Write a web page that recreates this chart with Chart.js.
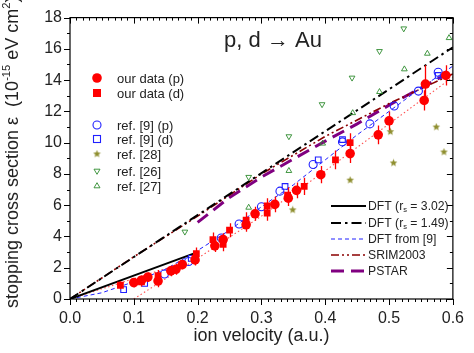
<!DOCTYPE html>
<html><head><meta charset="utf-8">
<script src="https://cdn.jsdelivr.net/npm/chart.js@4.4.0/dist/chart.umd.min.js"></script>
<style>html,body{margin:0;padding:0;background:#fff}</style>
</head><body>
<canvas id="c" width="474" height="353"></canvas>
<script>
// ---- data ----
const pX   = [0.100,0.112,0.122,0.138,0.158,0.166,0.176,0.196,0.227,0.240,0.276,0.290,0.321,0.342,0.355,0.393,0.439,0.483,0.500,0.555,0.557,0.589];
const pY   = [1.05,1.20,1.40,1.15,1.80,1.90,2.20,2.50,3.40,3.80,4.75,5.45,6.05,6.45,6.95,7.95,9.30,10.50,11.40,12.70,13.75,14.30];
const pErr = [0.3,0.3,0.3,0.4,0.35,0.35,0.3,0.35,0.4,0.4,0.45,0.45,0.5,0.5,0.5,0.55,0.6,0.6,0.6,0.65,1.2,0.65];

const dX   = [0.079,0.112,0.138,0.196,0.198,0.224,0.240,0.250,0.276,0.309,0.309,0.341,0.367,0.416,0.439];
const dY   = [0.88,1.10,1.50,2.60,2.90,3.80,3.50,4.40,5.05,5.50,5.95,6.65,7.20,8.90,10.00];
const dErr = [0.25,0.3,0.35,0.4,0.4,0.45,0.45,0.45,0.5,0.5,0.5,0.5,0.55,0.6,0.6];

const r9pX = [0.148,0.186,0.237,0.265,0.300,0.329,0.381,0.427,0.470,0.508,0.546,0.577];
const r9pY = [1.6,2.4,3.9,4.8,5.9,6.9,8.6,10.05,11.2,12.35,13.3,14.5];
const r9dX = [0.084,0.117,0.190,0.337,0.389,0.427,0.577];
const r9dY = [0.6,1.0,2.6,7.2,8.9,10.2,14.3];

const r28X = [0.349,0.439,0.502,0.507,0.574,0.586];
const r28Y = [5.7,7.6,10.7,8.7,11.0,9.4];
const r26X = [0.180,0.280,0.343,0.395,0.442,0.485,0.523];
const r26Y = [4.3,7.8,10.4,12.45,14.15,15.85,17.3];
const r27X = [0.280,0.343,0.396,0.443,0.485,0.524,0.560,0.594];
const r27Y = [5.85,8.2,9.95,11.9,13.25,14.7,15.7,16.7];

const dft302X = [0.0,0.2];
const dft302Y = [0.0,3.0];
const dft149X = [0.0,0.6];
const dft149Y = [0.0,16.1];
const dft9X = [0.0,0.05,0.1,0.15,0.2,0.25,0.3,0.35,0.4,0.45,0.5,0.55,0.6];
const dft9Y = [0.0,0.4,1.1,1.9,3.1,4.4,5.9,7.3,8.9,10.5,12.0,13.5,14.9];
const srimX = [0.0,0.1,0.2,0.3,0.4,0.5,0.6];
const srimY = [0.0,2.7,5.3,8.0,10.4,12.5,14.4];
const pstarX = [0.2,0.25,0.3,0.4,0.45,0.5,0.6];
const pstarY = [4.9,6.5,7.8,10.1,11.2,12.4,14.6];
const fitLowX = [0.0,0.2];
const fitLowY = [0.0,2.6];
const fitHighX = [0.1,0.2,0.3,0.4,0.5,0.6];
const fitHighY = [0.0,2.6,5.3,8.2,11.2,14.2];

const xTicks = [0.0,0.1,0.2,0.3,0.4,0.5,0.6];
const yTicks = [0,2,4,6,8,10,12,14,16,18];

// ---- helpers ----
const FONT = '"Liberation Sans", Arial, Helvetica, sans-serif';
const RED='#ff0000', BLUE='#2020ff', GREEN='#2e8b2e', OLIVE='#8f8f30', PURPLE='#800080', DRED='#8b0000';
const pts = (xs,ys)=>xs.map((v,i)=>({x:v,y:ys[i]}));

function makeStar(size,color){
  const c=document.createElement('canvas'); c.width=size; c.height=size;
  const g=c.getContext('2d'); const cx=size/2, cy=size/2, R=size/2-0.5, r=R*0.45;
  g.beginPath();
  for(let i=0;i<10;i++){const a=-Math.PI/2+i*Math.PI/5; const rr=i%2?r:R; g.lineTo(cx+rr*Math.cos(a),cy+rr*Math.sin(a));}
  g.closePath(); g.fillStyle=color; g.fill(); return c;
}
const starImg = makeStar(9,OLIVE);

function lineDS(xs,ys,color,width,dash){
  return {type:'scatter',data:pts(xs,ys),showLine:true,borderColor:color,borderWidth:width,borderDash:dash,pointRadius:0,fill:false,tension:0,order:5};
}

const datasets = [
  {data:pts(pX,pY),pointStyle:'circle',pointRadius:4.8,backgroundColor:RED,borderColor:RED,borderWidth:0,order:0},
  {data:pts(dX,dY),pointStyle:'rect',pointRadius:4.8,backgroundColor:RED,borderColor:RED,borderWidth:0,order:0},
  {data:pts(r9pX,r9pY),pointStyle:'circle',pointRadius:4,backgroundColor:'rgba(0,0,0,0)',borderColor:BLUE,borderWidth:1.1,order:1},
  {data:pts(r9dX,r9dY),pointStyle:'rect',pointRadius:4,backgroundColor:'rgba(0,0,0,0)',borderColor:BLUE,borderWidth:1.1,order:1},
  {data:pts(r28X,r28Y),pointStyle:starImg,pointRadius:4.5,order:1},
  {data:pts(r26X,r26Y),pointStyle:'triangle',rotation:180,pointRadius:3.3,backgroundColor:'rgba(0,0,0,0)',borderColor:GREEN,borderWidth:0.9,order:1},
  {data:pts(r27X,r27Y),pointStyle:'triangle',pointRadius:3.3,backgroundColor:'rgba(0,0,0,0)',borderColor:GREEN,borderWidth:0.9,order:1},
  lineDS(dft302X,dft302Y,'#000',2,[]),
  lineDS(dft149X,dft149Y,'#000',2,[10,4,2.5,4]),
  lineDS(dft9X,dft9Y,BLUE,1,[4,3]),
  lineDS(srimX,srimY,DRED,1.6,[8,3,2,3,2,3]),
  lineDS(pstarX,pstarY,PURPLE,3,[13,7]),
  lineDS(fitLowX,fitLowY,'#ff5050',1.1,[1.5,2.5]),
  lineDS(fitHighX,fitHighY,'#ff5050',1.1,[1.5,2.5])
];

function txt(ctx,parts,x,y,size){
  let cx=x;
  for(const [t,m] of parts){
    const fs = m? size*0.62 : size;
    ctx.font = fs+'px '+FONT;
    const dy = m===1 ? -size*0.42 : (m===-1 ? size*0.25 : 0);
    ctx.fillText(t,cx,y+dy);
    cx += ctx.measureText(t).width;
  }
}

const deco = {
  id:'deco',
  afterDatasetsDraw(chart){
    const {ctx,scales:{x,y},chartArea:a} = chart;
    ctx.save();
    ctx.beginPath(); ctx.rect(a.left,a.top,a.right-a.left,a.bottom-a.top); ctx.clip();
    ctx.strokeStyle=RED; ctx.lineWidth=1.3;
    const bars=(xs,ys,es)=>{for(let i=0;i<xs.length;i++){const px=Math.round(x.getPixelForValue(xs[i]))+0.5;ctx.beginPath();ctx.moveTo(px,y.getPixelForValue(ys[i]-es[i]));ctx.lineTo(px,y.getPixelForValue(ys[i]+es[i]));ctx.stroke();}};
    bars(pX,pY,pErr); bars(dX,dY,dErr);
    ctx.restore();
  },
  afterDraw(chart){
    const {ctx,scales:{x,y},chartArea:a} = chart;
    ctx.save();
    ctx.strokeStyle='#000'; ctx.lineWidth=1.2;
    ctx.strokeRect(a.left,a.top,a.right-a.left,a.bottom-a.top);
    ctx.lineWidth=1;
    for(let i=0;i<=60;i++){
      const v=i/100, px=Math.round(x.getPixelForValue(v))+0.5, major=(i%10===0), L=major?6:3;
      ctx.beginPath(); ctx.moveTo(px,a.bottom); ctx.lineTo(px,a.bottom+L); ctx.stroke();
      ctx.beginPath(); ctx.moveTo(px,a.top); ctx.lineTo(px,a.top+L); ctx.stroke();
    }
    for(let i=0;i<=18;i++){
      const py=Math.round(y.getPixelForValue(i))+0.5, major=(i%2===0), L=major?6:3;
      ctx.beginPath(); ctx.moveTo(a.left-L,py); ctx.lineTo(a.left,py); ctx.stroke();
      ctx.beginPath(); ctx.moveTo(a.right-L,py); ctx.lineTo(a.right,py); ctx.stroke();
    }
    ctx.fillStyle='#222';
    ctx.textAlign='center'; ctx.textBaseline='middle';
    ctx.font='22px '+FONT; ctx.fillText('p, d \u2192 Au',273,41);
    ctx.font='18px '+FONT; ctx.fillText('ion velocity (a.u.)',(a.left+a.right)/2,336);
    ctx.save(); ctx.translate(18,308); ctx.rotate(-Math.PI/2);
    ctx.textAlign='left'; ctx.textBaseline='alphabetic';
    txt(ctx,[['stopping cross section \u03b5  (10',0],['-15',1],[' eV cm',0],['2',1],[')',0]],0,0,18);
    ctx.restore();
    ctx.textAlign='left'; ctx.textBaseline='middle';
    const mx=97, tx=117;
    const leg1=[
      ['our data (p)',78,'fc'],['our data (d)',93,'fs'],
      ['ref. [9] (p)',125,'oc'],['ref. [9] (d)',139,'os'],
      ['ref. [28]',154,'st'],['ref. [26]',171,'td'],['ref. [27]',186,'tu']];
    for(const [t,yy,m] of leg1){
      ctx.fillStyle='#222'; ctx.font='13px '+FONT; ctx.fillText(t,tx,yy+1);
      ctx.lineWidth=1.1;
      if(m==='fc'){ctx.fillStyle=RED;ctx.beginPath();ctx.arc(mx,yy,4.8,0,Math.PI*2);ctx.fill();}
      if(m==='fs'){ctx.fillStyle=RED;ctx.fillRect(mx-4,yy-4,8,8);}
      if(m==='oc'){ctx.strokeStyle=BLUE;ctx.beginPath();ctx.arc(mx,yy,4,0,Math.PI*2);ctx.stroke();}
      if(m==='os'){ctx.strokeStyle=BLUE;ctx.strokeRect(mx-3.5,yy-3.5,7,7);}
      if(m==='st'){ctx.drawImage(starImg,mx-4.5,yy-4.5);}
      if(m==='td'||m==='tu'){ctx.strokeStyle=GREEN;ctx.lineWidth=0.9;const s=m==='tu'?-1:1;ctx.beginPath();ctx.moveTo(mx,yy+s*3.3);ctx.lineTo(mx-3,yy-s*1.8);ctx.lineTo(mx+3,yy-s*1.8);ctx.closePath();ctx.stroke();}
    }
    const lx0=331, lx1=366, ltx=368;
    const leg2=[
      [[['DFT (r',0],['s',-1],[' = 3.02)',0]],206,'#000',2,[]],
      [[['DFT (r',0],['s',-1],[' = 1.49)',0]],223,'#000',2,[10,4,2.5,4]],
      [[['DFT from [9]',0]],239,BLUE,1,[4,3]],
      [[['SRIM2003',0]],255,DRED,1.6,[8,3,2,3,2,3]],
      [[['PSTAR',0]],271,PURPLE,3,[13,7]]];
    for(const [parts,yy,col,w,dash] of leg2){
      ctx.strokeStyle=col; ctx.lineWidth=w; ctx.setLineDash(dash);
      ctx.beginPath(); ctx.moveTo(lx0,yy); ctx.lineTo(lx1,yy); ctx.stroke();
      ctx.setLineDash([]);
      ctx.fillStyle='#222'; txt(ctx,parts,ltx,yy+1,12.2);
    }
    ctx.restore();
  }
};

new Chart(document.getElementById('c'),{
  type:'scatter',
  data:{datasets},
  options:{
    responsive:false, animation:false, devicePixelRatio:1,
    layout:{padding:{top:10,right:12,left:0,bottom:0}},
    plugins:{legend:{display:false},tooltip:{enabled:false}},
    scales:{
      x:{type:'linear',min:0,max:0.6,
         afterBuildTicks:s=>{s.ticks=xTicks.map(v=>({value:v}));},
         afterFit:s=>{s.height=54;},
         grid:{display:false,drawTicks:false},border:{display:false},
         ticks:{padding:10,font:{family:FONT,size:16},color:'#222',callback:v=>Number(v).toFixed(1),maxRotation:0,autoSkip:false}},
      y:{type:'linear',min:0,max:18,
         afterBuildTicks:s=>{s.ticks=yTicks.map(v=>({value:v}));},
         afterFit:s=>{s.width=70;},
         grid:{display:false,drawTicks:false},border:{display:false},
         ticks:{padding:8,font:{family:FONT,size:16},color:'#222',autoSkip:false}}
    }
  },
  plugins:[deco]
});
</script>
</body></html>
